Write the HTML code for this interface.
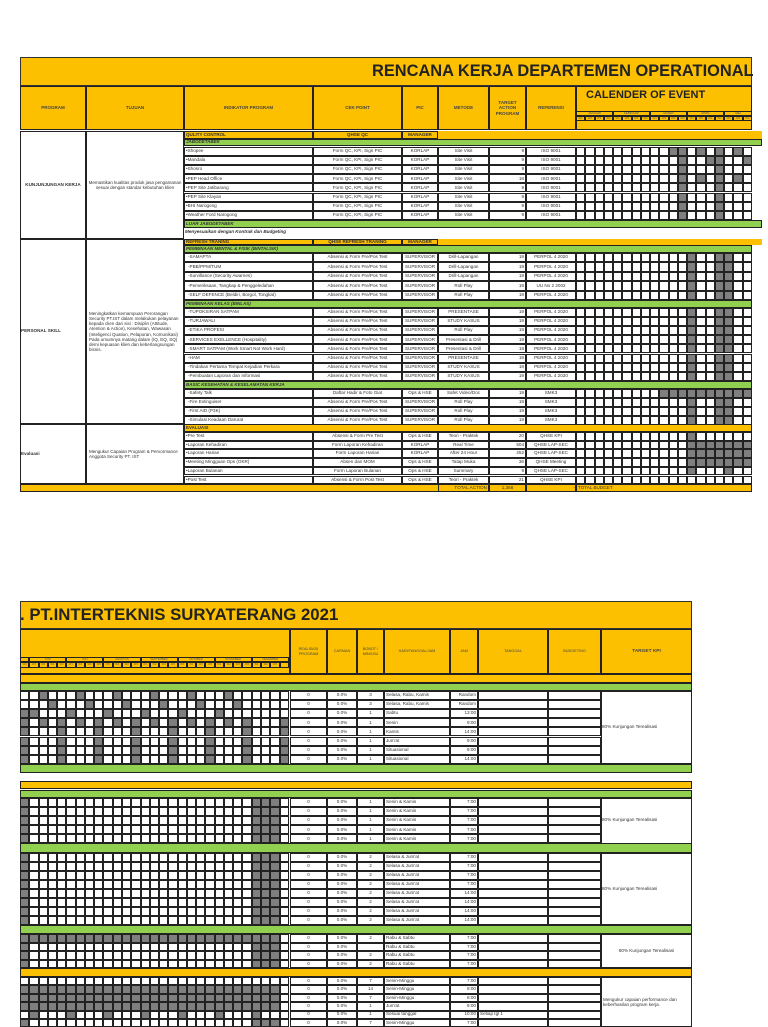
<!DOCTYPE html>
<html><head><meta charset="utf-8">
<style>
html,body{margin:0;padding:0;background:#fff;}
body{width:768px;height:1024px;position:relative;overflow:hidden;font-family:"Liberation Sans",sans-serif;color:#333;}
.r{position:absolute;box-sizing:border-box;overflow:hidden;white-space:nowrap;line-height:1;display:flex;align-items:center;}
</style></head><body>
<div id="root"></div>
<script>
var root=document.getElementById('root');
var Y='#fdc000',G='#92d050',GR='#7f7f7f',B='0.7px solid #222';
function R(x,y,w,h,o){o=o||{};var d=document.createElement('div');d.className='r';
var s=d.style;s.left=x+'px';s.top=y+'px';s.width=w+'px';s.height=h+'px';
if(o.bg)s.background=o.bg;if(o.b!==0)s.border=o.b||B;
s.fontSize=(o.fs||4.6)+'px';s.justifyContent=o.al||'center';
if(o.fw)s.fontWeight=o.fw;if(o.it)s.fontStyle='italic';if(o.c)s.color=o.c;
if(o.wrap){s.whiteSpace='normal';s.lineHeight='1.15';s.textAlign=o.ta||'center';}
if(o.pad)s.padding=o.pad;
if(o.t!==undefined)d.textContent=o.t;root.appendChild(d);return d;}

/* ================= TOP TABLE ================= */
R(20,57,732,29,{bg:Y,b:'1.2px solid #333'});
R(372,57,390,29,{b:0,t:'RENCANA KERJA DEPARTEMEN OPERATIONAL',fs:16.4,fw:'bold',al:'flex-start',c:'#222'});
var hc=[[20,66,'PROGRAM'],[86,98,'TUJUAN'],[184,129,'INDIKATOR PROGRAM'],[313,89,'CEK POINT'],[402,36,'PIC'],[438,51,'METODE'],[489,37,'TARGET ACTION PROGRAM'],[526,50,'REFERENSI']];
hc.forEach(function(c){R(c[0],86,c[1],44,{bg:Y,t:c[2],fs:4.5,fw:'bold',wrap:true,c:'#444'});});
R(576,86,176,44,{bg:Y});
R(586,88,160,14,{b:0,t:'CALENDER OF EVENT',fs:11,fw:'bold',al:'flex-start',c:'#222'});
var cw=9.26,mons=['JANUARI','FEBRUARI','MARET','APRIL','MEI'];
for(var m=0;m<5;m++){R(576+m*4*cw,111,(m<4?4:3)*cw,5,{bg:Y,t:mons[m],fs:3,c:'#555'});}
for(var i=0;i<19;i++)R(576+i*cw,116,cw,5,{bg:Y,t:'W'+(i%4+1),fs:2.8,c:'#555'});

function calTop(y,h,gray){for(var i=0;i<19;i++)R(576+i*cw,y,cw,h,{bg:gray.indexOf(i)>=0?GR:'#fff'});}
function dataTop(y,h,ind,cek,pic,met,tg,ref,gray,indent){
 R(184,y,129,h,{bg:'#fff',t:ind,al:'flex-start',pad:'0 0 0 '+(indent||1)+'px'});
 R(313,y,89,h,{bg:'#fff',t:cek});R(402,y,36,h,{bg:'#fff',t:pic});R(438,y,51,h,{bg:'#fff',t:met});
 R(489,y,37,h,{bg:'#fff',t:tg,al:'flex-end',pad:'0 1px 0 0'});R(526,y,50,h,{bg:'#fff',t:ref});
 calTop(y,h,gray);}
function band(x,y,w,h,bg,t,o){o=o||{};R(x,y,w,h,{bg:bg,t:t,al:'flex-start',fw:'bold',it:o.it,fs:4.5,pad:'0 0 0 1px',b:o.b});}

R(20,131,66,108,{bg:'#fff',t:'KUNJUNJUNGAN KERJA',fw:'bold',fs:4.6});
R(86,131,98,108,{bg:'#fff',t:'Memastikan kualitas produk jasa pengamanan sesuai dengan standar kebutuhan klien',wrap:true,fs:4.5});
R(20,239,66,185,{bg:'#fff',t:'PERSONAL SKILL',fw:'bold',fs:4.6,al:'flex-start'});
R(86,239,98,185,{bg:'#fff',t:'Meningkatkan kemampuan Perorangan Security PT.IST dalam melakukan pelayanan kepada clien dari sisi : Disiplin (Attitude, Atention & Action), Kesehatan, Wawasan (Inteligenci Quation, Pelaporan, Komunikasi) Pada umumnya matang dalam (IQ, EQ, SQ) demi kepuasan klien dan keberlangsungan bisnis.',wrap:true,ta:'left',fs:4.5,pad:'0 2px'});
R(20,424,66,60,{bg:'#fff',t:'Evaluasi',fw:'bold',fs:4.6,al:'flex-start'});
R(86,424,98,60,{bg:'#fff',t:'Mengukur  Capaian Program & Pervormance Anggota Security PT. IST',wrap:true,ta:'left',fs:4.5,pad:'0 2px'});

R(438,131,324,8,{bg:Y,b:0});
band(184,131,129,8,Y,'QULITY CONTROL');R(313,131,89,8,{bg:Y,t:'QHSE QC',fw:'bold'});R(402,131,36,8,{bg:Y,t:'MANAGER',fw:'bold'});
band(184,139,578,7,G,'JABODETABEK',{it:1});
var qn=['•Shopee','•Mandala','•Shosro','•PEP Head Office','•PEP Site Jatibarang','•PEP Site Klayan','•BHI Narogong','•Weather Ford Narogong'];
var qg=[[10,11,13,15,17],[11,14,15,18],[11,15],[11,13,15,17],[11,15],[11,15],[11,15],[11,15]];
for(var k=0;k<8;k++)dataTop(147+k*9.1,9.1,qn[k],'Form QC, KPI, Sign PIC','KORLAP','Site Visit',k==3?'18':'9','ISO 9001',qg[k]);
band(184,220,578,8,G,'LUAR  JABODETABEK',{it:1});
R(184,228,578,8,{bg:'#fff',b:0,t:'Menyesuaikan dengan Kontrak dan Budgeting',it:1,fw:'bold',al:'flex-start',pad:'0 0 0 1px'});
R(438,239,324,6,{bg:Y,b:0});
band(184,239,129,6,Y,'REFRESH TRANING');R(313,239,89,6,{bg:Y,t:'QHSE REFRESH TRANING',fw:'bold'});R(402,239,36,6,{bg:Y,t:'MANAGER',fw:'bold'});
band(184,245,568,8,G,'PEMBINAAN MENTAL & FISIK (BINTALSIK)',{it:1});
var pn=['-SAMAPTA','-PBB/PPM/TUM','-Survillance (Security Awarnes)','-Pemeriksaan, Tangkap & Penggeledahan','-SELF DEFENCE (Beldiri, Borgol, Tongkat)'];
var pm=['Drill-Lapangan','Drill-Lapangan','Drill-Lapangan','Roll Play','Roll Play'];
var pr=['PERPOL 4 2020','PERPOL 4 2020','PERPOL 4 2020','UU No 2 2002','PERPOL 4 2020'];
for(k=0;k<5;k++)dataTop(253+k*9.4,9.4,pn[k],'Absensi & Form Pre/Pos Test','SUPERVISOR',pm[k],'19',pr[k],[12,15,16],3);
band(184,300,568,8,G,'PEMBINAAN KELAS (BINLAS)',{it:1});
var bn=['-TUPOKSIRAN SATPAM','-TURJAWALI','-ETIKA PROFESI','-SERVICES EXELLENCE (Hospitality)','-SMART SATPAM (Work Smart Not Work Hard)','-HAM','-Tindakan Pertama Tempat Kejadian Perkara','-Pembuatan Laporan dan Informasi'];
var bm=['PRESENTASE','STUDY KASUS','Roll Play','Presentasi & Drill','Presentasi & Drill','PRESENTASE','STUDY KASUS','STUDY KASUS'];
for(k=0;k<8;k++)dataTop(308+k*9.1,9.1,bn[k],'Absensi & Form Pre/Pos Test','SUPERVISOR',bm[k],'19','PERPOL 4 2020',[12,15,16],3);
band(184,381,568,8,G,'BASIC KESEHATAN & KESELAMATAN KERJA',{it:1});
var kn=['-Safety Talk','-Fire Extinguiser','-First AID (P3K)','-Simulasi Keadaan Darurat'];
var kc=['Daftar Hadir & Foto Giat','Absensi & Form Pre/Pos Test','Absensi & Form Pre/Pos Test','Absensi & Form Pre/Pos Test'];
var kp=['Ops & HSE','SUPERVISOR','SUPERVISOR','SUPERVISOR'],km=['Safet Video/Doc','Roll Play','Roll Play','Roll Play'];
for(k=0;k<4;k++)dataTop(389+k*8.9,8.9,kn[k],kc[k],kp[k],km[k],'19','SMK3',k==0?[9,10,11,12,13,14,15,16,17,18]:[12,15,16],3);
band(184,424,568,8,Y,' EVALUASI');
var en=['•Pre Test','•Laporan Kehadiran','•Laporan Harian','•Meeting Mingguan Ops (OKR)','•Laporan Bulanan','•Post Test'];
var ec=['Absensi & Form Pre  Test','Form Laporan Kehadiran','Form Laporan Harian','Absen dan MOM','Form Laporan Bulanan','Absensi & Form Post  Test'];
var ep=['Ops & HSE','KORLAP','KORLAP','Ops & HSE','Ops & HSE','Ops & HSE'],em=['Teori - Praktek','Real Time','After 24 Hour','Tatap Muka','Summary','Teori - Praktek'];
var et=['20','504','252','36','9','21'],er=['QHSE KPI','QHSE LAP-SEC','QHSE LAP-SEC','QHSE Meeting','QHSE LAP-SEC','QHSE KPI'];
var eg=[[12],[12,13,14,15,16,17,18],[12,13,14,15,16,17,18],[12,13,14,15,16,17,18],[12,16],[]];
for(k=0;k<6;k++)dataTop(432+k*8.7,8.7,en[k],ec[k],ep[k],em[k],et[k],er[k],eg[k]);
R(20,484,732,8,{bg:Y});
R(438,484,51,8,{bg:Y,t:'TOTAL ACTION',al:'flex-end',pad:'0 1px 0 0'});R(489,484,37,8,{bg:Y,t:'1,366'});R(526,484,50,8,{bg:Y,t:'-',al:'flex-end'});
R(576,484,176,8,{bg:Y,t:'TOTAL BUDGET',al:'flex-start',pad:'0 0 0 1px'});

/* ================= BOTTOM TABLE ================= */
R(20,601,672,28,{bg:Y,b:'1.2px solid #333'});
R(20,601,400,28,{b:0,t:'. PT.INTERTEKNIS SURYATERANG 2021',fs:16.8,fw:'bold',al:'flex-start',c:'#222'});
var bw=9.27;
R(20,629,270,45,{bg:Y});
var bm2=[['',1],['JUNI',4],['JULI',4],['AGUSTUS',4],['SEPTEMBER',4],['OKTOBER',4],['NOVEMBER',4],['DESEMBER',4]];
var cx=20;bm2.forEach(function(m){R(cx,657,m[1]*bw,5,{bg:Y,t:m[0],fs:2.8,c:'#555'});cx+=m[1]*bw;});
for(i=0;i<29;i++)R(20+i*bw,662,bw,6,{bg:Y,t:i<28?'W'+((i+3)%4+1):'',fs:2.6,c:'#555'});
var bc=[[290,37,'REALISASI PROGRAM'],[327,30,'CAPAIAN'],[357,27,'BOBOT / MINGGU'],[384,66,'HARI/TANGGAL/JAM'],[450,28,'JAM'],[478,70,'TANGGAL'],[548,53,'BUDGETING'],[601,91,'TARGET KPI']];
bc.forEach(function(c){R(c[0],629,c[1],45,{bg:Y,t:c[2],fs:c[0]==601?4.8:3.8,fw:c[0]==601?'bold':null,wrap:true,c:'#444'});});
function rowB(y,h,bob,hari,jam,tgl,gray){
 for(var i=0;i<29;i++)R(20+i*bw,y,bw,h,{bg:gray.indexOf(i)>=0?GR:'#fff'});
 R(290,y,37,h,{bg:'#fff',t:'0'});R(327,y,30,h,{bg:'#fff',t:'0.0%'});R(357,y,27,h,{bg:'#fff',t:bob});
 R(384,y,66,h,{bg:'#fff',t:hari,al:'flex-start',pad:'0 0 0 1px'});R(450,y,28,h,{bg:'#fff',t:jam,al:'flex-end',pad:'0 1px 0 0'});
 R(478,y,70,h,{bg:'#fff',t:tgl||'',al:'flex-start',pad:'0 0 0 1px'});R(548,y,53,h,{bg:'#fff'});}
function seq(a,s,e){var r=[];for(var i=a;i<=e;i+=s)r.push(i);return r;}
function bandB(y,h,bg){R(20,y,672,h,{bg:bg});}
bandB(674,9,Y);bandB(683,8,G);
var g1b=['3','3','1','1','1','1','1','1'],g1h=['Selasa, Rabu, Kamis','Selasa, Rabu, Kamis','Sabtu','Senin','Kamis',"Jum'at",'Situasional','Situasional'],g1j=['Random','Random','13:00','9:00','14:00','9:00','9:00','14:00'];
var g1g=[seq(2,4,22),seq(3,4,23),[0,1].concat(seq(5,4,21)),[0].concat(seq(2,2,24)).concat([28]),seq(0,4,28),seq(0,4,28),seq(0,4,28),seq(0,4,28)];
for(k=0;k<8;k++)rowB(691+k*9.1,9.1,g1b[k],g1h[k],g1j[k],'',g1g[k]);
R(601,691,91,73,{bg:'#fff',t:'80% Kunjungan Terealisasi',al:'flex-start',fs:4.6});
bandB(764,9,G);bandB(781,8,Y);bandB(790,8,G);
for(k=0;k<5;k++)rowB(798+k*9.1,9.1,'1','Senin & Kamis','7:00','',[0,25,26,27]);
R(601,798,91,45.5,{bg:'#fff',t:'80% Kunjungan Terealisasi',al:'flex-start',fs:4.6});
bandB(843,10,G);
for(k=0;k<8;k++)rowB(853+k*9,9,'2',"Selasa & Jum'at",k<4?'7:00':'14:00','',[0,25,26,27]);
R(601,853,91,72,{bg:'#fff',t:'80% Kunjungan Terealisasi',al:'flex-start',fs:4.6});
bandB(925,9,G);
var g4b=['2','','2','2'];
for(k=0;k<4;k++)rowB(934+k*8.6,8.6,g4b[k],'Rabu & Sabtu','7:00','',k==0?seq(0,1,27):[0,25,26,27]);
R(601,934,91,34.4,{bg:'#fff',t:'80% Kunjungan Terealisasi',fs:4.6});
bandB(968,9,Y);
var g5b=['7','14','7','1','1','7'],g5h=['Senin-Minggu','Senin-Minggu','Senin-Minggu',"Jum'at",'Sesuai tanggal','Senin-Minggu'],g5j=['7:00','8:00','8:00','9:00','10:00','7:00'];
var g5g=[[],seq(0,1,27),seq(0,1,27),seq(0,1,27),seq(1,4,21).concat([25]),[0,25,26,27]];
for(k=0;k<6;k++)rowB(977+k*8.4,8.4,g5b[k],g5h[k],g5j[k],k==4?'Setiap tgl 1':'',g5g[k]);
R(601,977,91,50,{bg:'#fff',t:'Mengukur capaian performance dan keberhasilan program kerja.',wrap:true,ta:'left',fs:4.6,pad:'0 1px'});
</script>
</body></html>
